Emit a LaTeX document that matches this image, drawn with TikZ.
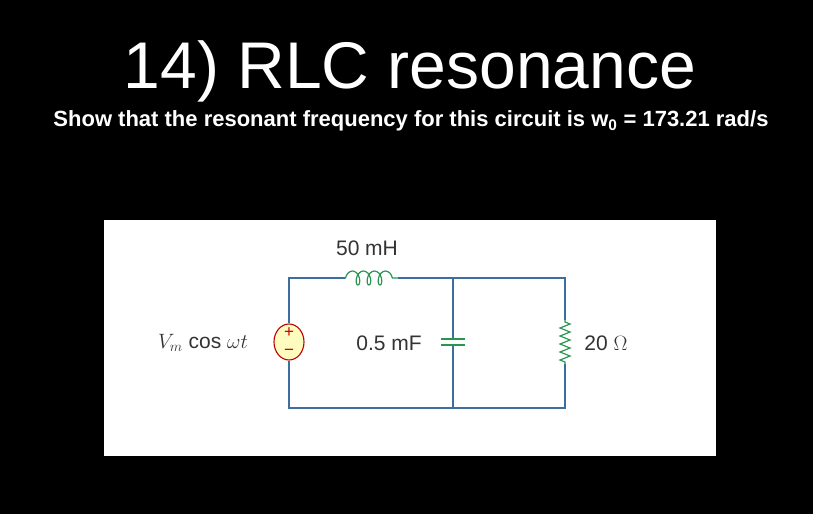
\documentclass[tikz,border=0pt]{standalone}
\usepackage{fontspec}
\setmainfont{Liberation Sans}
\usetikzlibrary{decorations.pathmorphing,shapes.geometric}
\definecolor{wire}{RGB}{60,110,160}
\definecolor{comp}{RGB}{40,150,80}
\begin{document}
\begin{tikzpicture}[x=1pt,y=-1pt,
  w/.style={wire,line width=1.1pt},
  c/.style={comp,line width=1.2pt},
  lbl/.style={font=\fontsize{21}{24}\selectfont,text=black!80,inner sep=0pt}]
\fill[black] (0,0) rectangle (813,514);
\useasboundingbox (0,0) rectangle (813,514);
\fill[white] (104,220) rectangle (716,456);
\node[text=white,font=\fontsize{66}{72}\selectfont] (title) at (410,71) {14) RLC resonance};
\node[text=white,font=\bfseries\fontsize{22}{24}\selectfont] (sub) at (411,121) {Show that the resonant frequency for this circuit is w\textsubscript{0} = 173.21 rad/s};
\coordinate (tl) at (289,278); \coordinate (bl) at (289,408);
\coordinate (tm) at (453,278); \coordinate (bm) at (453,408);
\coordinate (tr) at (565,278); \coordinate (br) at (565,408);
\coordinate (la) at (345,278); \coordinate (lb) at (398,278);
\coordinate (ca) at (453,339); \coordinate (cb) at (453,345);
\coordinate (ra) at (565,320); \coordinate (rb) at (565,364);
\node[draw=red!75!black,fill=yellow!25,line width=1.1pt,ellipse,minimum width=30pt,minimum height=36pt,inner sep=0pt] (src) at (289,342) {};
\node[text=red!80!black,font=\fontsize{17}{17}\selectfont,inner sep=0pt] (plus) at (289,333) {+};
\node[text=red!80!black,font=\fontsize{17}{17}\selectfont,inner sep=0pt] (minus) at (289,352) {\textminus};
\draw[w] (src.north) -- (tl) -- (la);
\draw[w] (lb) -- (tm) -- (tr) -- (ra);
\draw[w] (src.south) -- (bl) -- (bm) -- (br) -- (rb);
\draw[w] (tm) -- (ca); \draw[w] (cb) -- (bm);
\draw[c] (441,339) -- (465,339); \draw[c] (441,345) -- (465,345);
\draw[c,decorate,decoration={coil,aspect=0.6,segment length=11pt,amplitude=7pt,pre length=0.5pt,post length=0.5pt}] (la) -- (lb);
\draw[c,decorate,decoration={zigzag,segment length=8pt,amplitude=5pt,pre length=2pt,post length=2pt}] (ra) -- (rb);
\node[lbl] (lL) at (367,248) {50 mH};
\node[lbl] (lC) at (389,343) {0.5 mF};
\node[lbl] (lR) at (606,343) {20 $\Omega$};
\node[lbl] (lV) at (203,343) {$V_m$ cos $\omega t$};
\end{tikzpicture}
\end{document}
